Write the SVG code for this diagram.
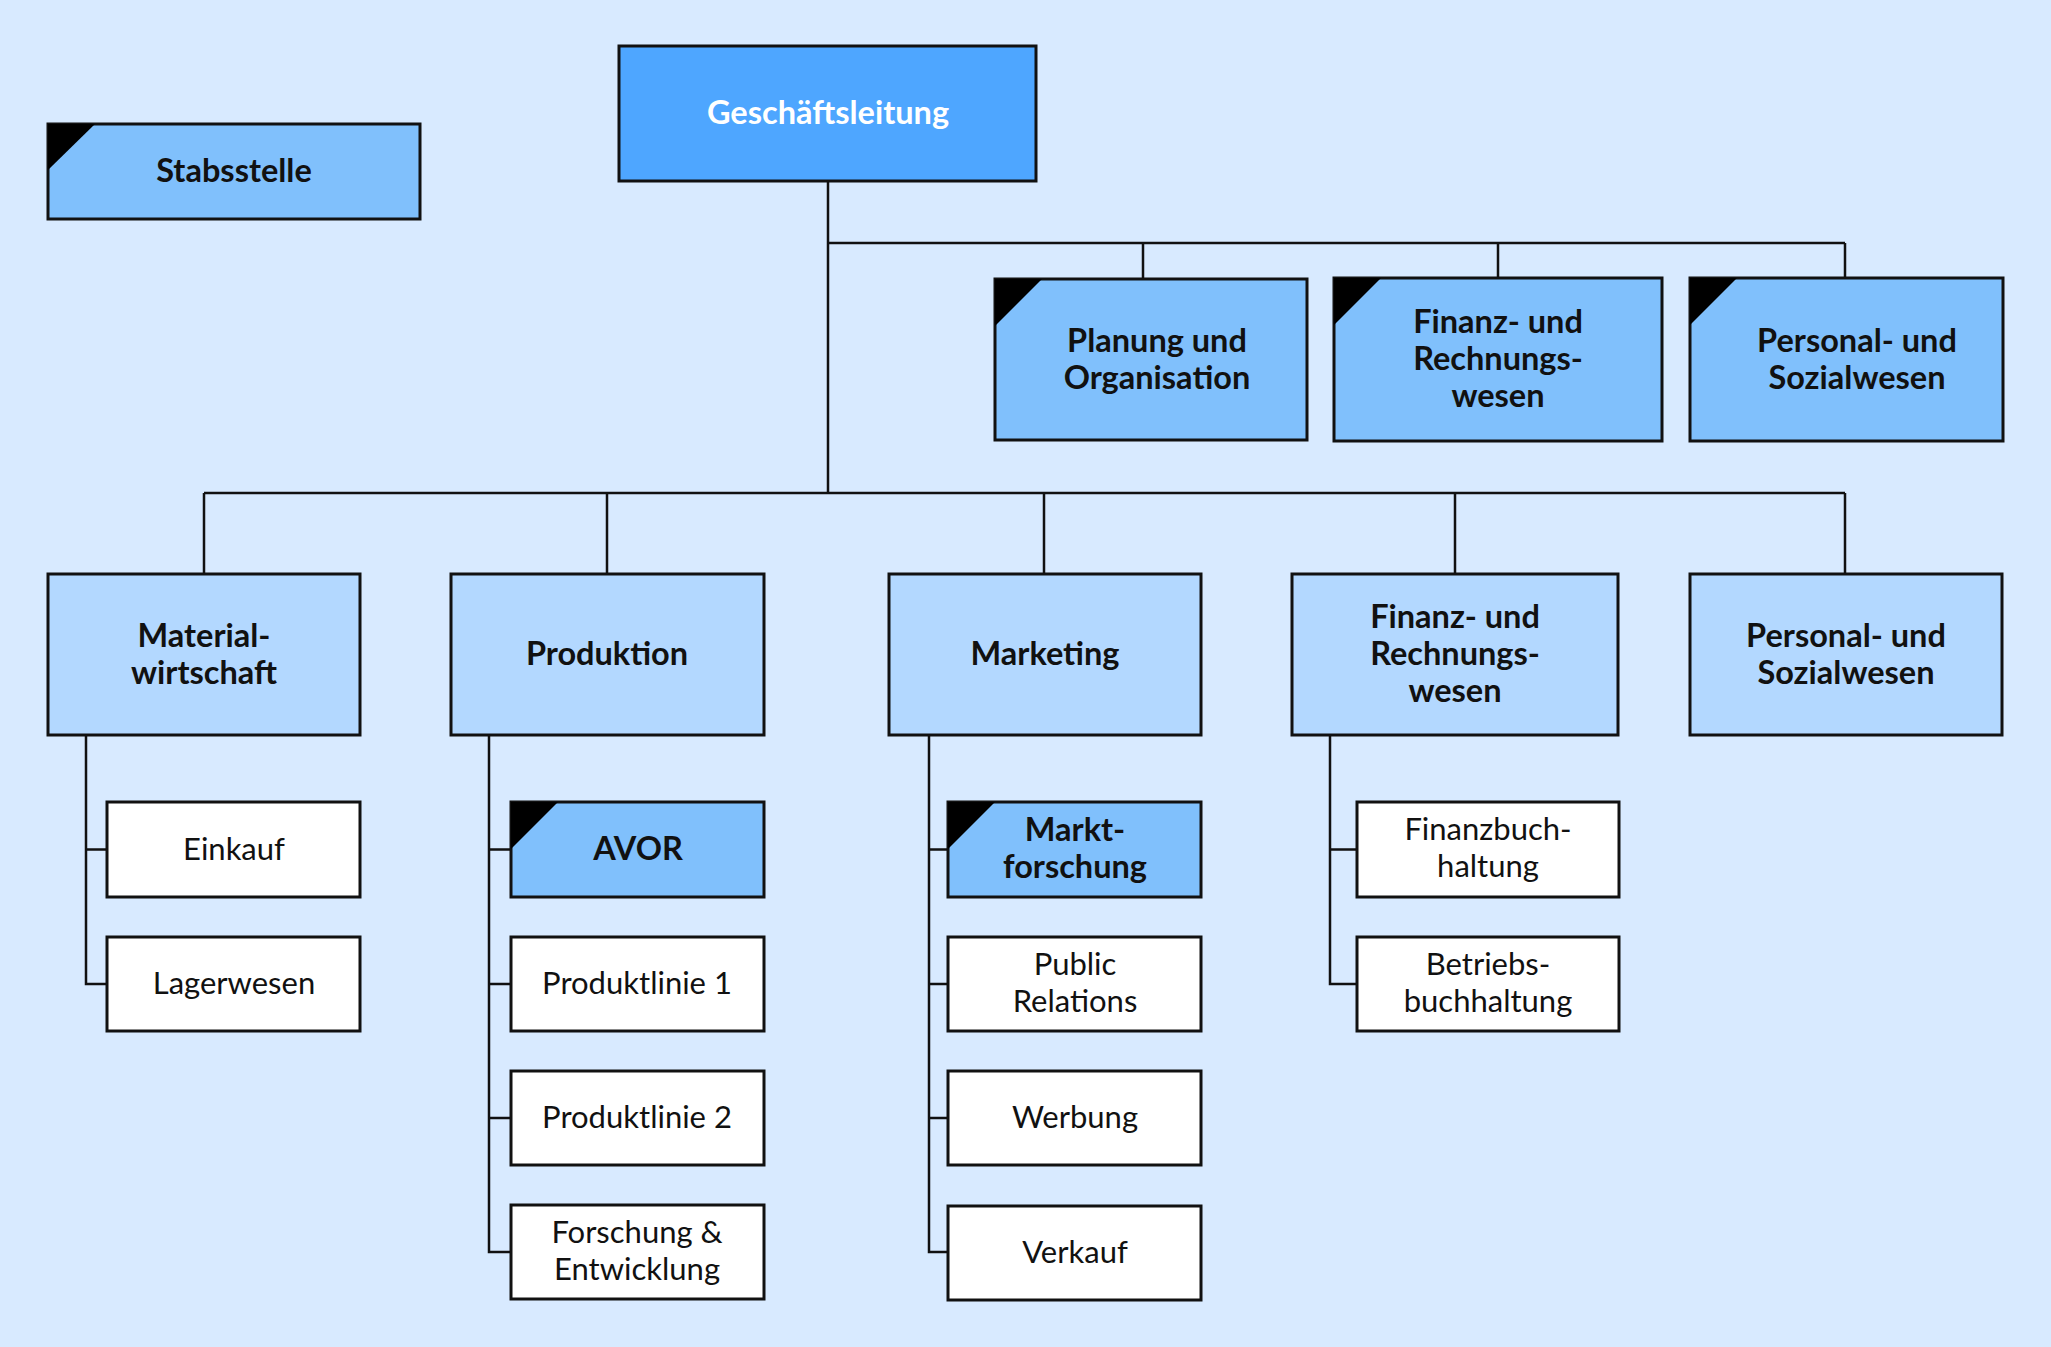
<svg xmlns="http://www.w3.org/2000/svg" width="2051" height="1347" viewBox="0 0 2051 1347">
<defs>
<style>
.bg{fill:#d8eaff}
.box{stroke:#111;stroke-width:3}
.top{fill:#4ea6ff}
.staff{fill:#80c0fc}
.dept{fill:#b3d8ff}
.unit{fill:#ffffff}
.corner{fill:#000}
.ln{fill:none;stroke:#111;stroke-width:2.5}
text{font-family:Lato,"Open Sans","Liberation Sans",sans-serif;font-size:31px;text-anchor:middle;dominant-baseline:central;fill:#111}
.b{font-weight:bold;font-size:32.5px}
.w{fill:#fff}
</style>
</defs>
<rect class="bg" x="0" y="0" width="2051" height="1347"/>
<g id="connectors">
<path class="ln" d="M828 181V493M828 243H1845M1143 243V279M1498 243V278M1845 243V278"/>
<path class="ln" d="M204 493H1845M204 493V574M607 493V574M1044 493V574M1455 493V574M1845 493V574"/>
<path class="ln" d="M86 735V984H107M86 849.5H107"/>
<path class="ln" d="M489 735V1252H511M489 849.5H511M489 984H511M489 1118H511"/>
<path class="ln" d="M929 735V1252H948M929 849.5H948M929 984H948M929 1118H948"/>
<path class="ln" d="M1330 735V984H1357M1330 849.5H1357"/>
</g>
<g id="stabsstelle">
<rect class="box staff" x="48" y="124" width="372" height="95"/>
<polygon class="corner" points="48,124 95,124 48,170"/>
<text class="b" x="234" y="169">Stabsstelle</text>
</g>
<g id="geschaeftsleitung">
<rect class="box top" x="619" y="46" width="417" height="135"/>
<text class="b w" x="828" y="111">Geschäftsleitung</text>
</g>
<g id="planung">
<rect class="box staff" x="995" y="279" width="312" height="161"/>
<polygon class="corner" points="995,279 1042,279 995,326"/>
<text class="b" x="1157" y="339">Planung und</text>
<text class="b" x="1157" y="376">Organisation</text>
</g>
<g id="finanz-stab">
<rect class="box staff" x="1334" y="278" width="328" height="163"/>
<polygon class="corner" points="1334,278 1381,278 1334,325"/>
<text class="b" x="1498" y="320">Finanz- und</text>
<text class="b" x="1498" y="357">Rechnungs-</text>
<text class="b" x="1498" y="394">wesen</text>
</g>
<g id="personal-stab">
<rect class="box staff" x="1690" y="278" width="313" height="163"/>
<polygon class="corner" points="1690,278 1737,278 1690,325"/>
<text class="b" x="1857" y="339">Personal- und</text>
<text class="b" x="1857" y="376">Sozialwesen</text>
</g>
<g id="materialwirtschaft">
<rect class="box dept" x="48" y="574" width="312" height="161"/>
<text class="b" x="204" y="634">Material-</text>
<text class="b" x="204" y="671">wirtschaft</text>
</g>
<g id="produktion">
<rect class="box dept" x="451" y="574" width="313" height="161"/>
<text class="b" x="607" y="652">Produktion</text>
</g>
<g id="marketing">
<rect class="box dept" x="889" y="574" width="312" height="161"/>
<text class="b" x="1045" y="652">Marketing</text>
</g>
<g id="finanz">
<rect class="box dept" x="1292" y="574" width="326" height="161"/>
<text class="b" x="1455" y="615">Finanz- und</text>
<text class="b" x="1455" y="652">Rechnungs-</text>
<text class="b" x="1455" y="689">wesen</text>
</g>
<g id="personal">
<rect class="box dept" x="1690" y="574" width="312" height="161"/>
<text class="b" x="1846" y="634">Personal- und</text>
<text class="b" x="1846" y="671">Sozialwesen</text>
</g>
<g id="einkauf">
<rect class="box unit" x="107" y="802" width="253" height="95"/>
<text x="234" y="847.5">Einkauf</text>
</g>
<g id="lagerwesen">
<rect class="box unit" x="107" y="937" width="253" height="94"/>
<text x="234" y="982">Lagerwesen</text>
</g>
<g id="avor">
<rect class="box staff" x="511" y="802" width="253" height="95"/>
<polygon class="corner" points="511,802 558,802 511,849"/>
<text class="b" x="638" y="847.5">AVOR</text>
</g>
<g id="produktlinie1">
<rect class="box unit" x="511" y="937" width="253" height="94"/>
<text x="637" y="982">Produktlinie 1</text>
</g>
<g id="produktlinie2">
<rect class="box unit" x="511" y="1071" width="253" height="94"/>
<text x="637" y="1116">Produktlinie 2</text>
</g>
<g id="forschung">
<rect class="box unit" x="511" y="1205" width="253" height="94"/>
<text x="637" y="1231">Forschung &amp;</text>
<text x="637" y="1268">Entwicklung</text>
</g>
<g id="marktforschung">
<rect class="box staff" x="948" y="802" width="253" height="95"/>
<polygon class="corner" points="948,802 995,802 948,849"/>
<text class="b" x="1075" y="828">Markt-</text>
<text class="b" x="1075" y="865">forschung</text>
</g>
<g id="publicrelations">
<rect class="box unit" x="948" y="937" width="253" height="94"/>
<text x="1075" y="963">Public</text>
<text x="1075" y="1000">Relations</text>
</g>
<g id="werbung">
<rect class="box unit" x="948" y="1071" width="253" height="94"/>
<text x="1075" y="1116">Werbung</text>
</g>
<g id="verkauf">
<rect class="box unit" x="948" y="1206" width="253" height="94"/>
<text x="1075" y="1251">Verkauf</text>
</g>
<g id="finanzbuchhaltung">
<rect class="box unit" x="1357" y="802" width="262" height="95"/>
<text x="1488" y="828">Finanzbuch-</text>
<text x="1488" y="865">haltung</text>
</g>
<g id="betriebsbuchhaltung">
<rect class="box unit" x="1357" y="937" width="262" height="94"/>
<text x="1488" y="963">Betriebs-</text>
<text x="1488" y="1000">buchhaltung</text>
</g>
</svg>
